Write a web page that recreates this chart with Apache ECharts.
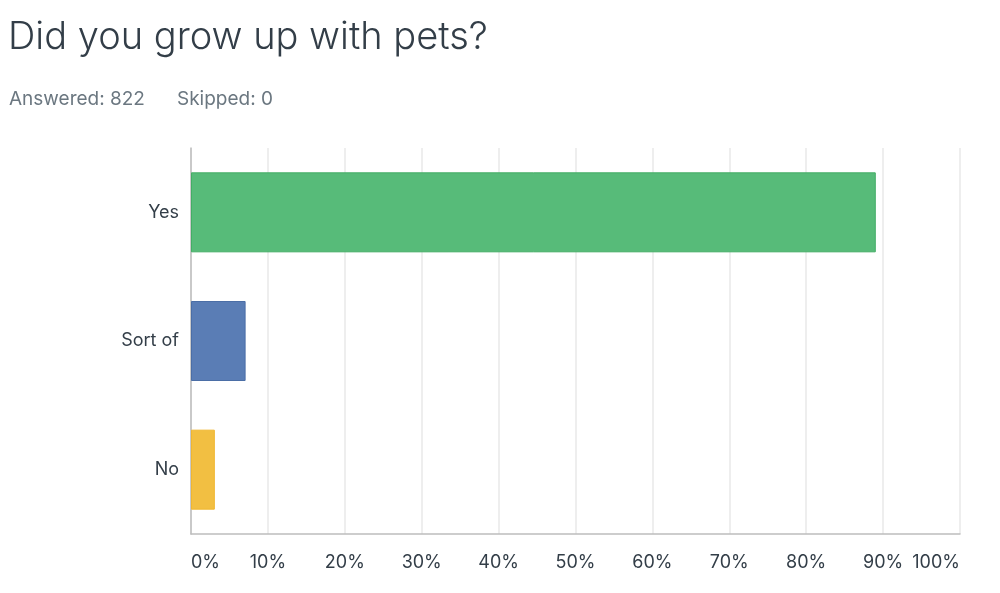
<!DOCTYPE html>
<html>
<head>
<meta charset="utf-8">
<script src="https://cdn.jsdelivr.net/npm/echarts@6/dist/echarts.min.js"></script>
<style>html,body{margin:0;padding:0;background:#fff}#c{width:1000px;height:593px}</style>
</head>
<body>
<div id="c"></div>
<script>
const categories = ['Yes', 'Sort of', 'No'];
const values = [89.05, 7.1, 3.1];
const barColors = ['#57bb79', '#5a7db5', '#f2bf42'];
const borderColors = ['#43ad65', '#4b6ea6', '#f0b630'];
const tickValues = [0, 10, 20, 30, 40, 50, 60, 70, 80, 90, 100];

const chart = echarts.init(document.getElementById('c'), null, {renderer: 'canvas'});
chart.setOption({
  animation: false,
  backgroundColor: '#fff',
  title: [
    {text: 'Did you grow up with pets?', left: 8, top: 19, padding: 0,
     textStyle: {fontFamily: 'Inter', fontWeight: 300, fontSize: 38, color: '#333e48'}},
    {text: 'Answered: 822', left: 9, top: 90, padding: 0,
     textStyle: {fontFamily: 'Inter', fontWeight: 400, fontSize: 19, color: '#6b7780'}},
    {text: 'Skipped: 0', left: 177, top: 90, padding: 0,
     textStyle: {fontFamily: 'Inter', fontWeight: 400, fontSize: 19, color: '#6b7780'}}
  ],
  grid: {left: 191, right: 40, top: 148, bottom: 59, containLabel: false},
  xAxis: {
    type: 'value', min: 0, max: 100, interval: 10,
    axisLine: {show: true, lineStyle: {color: '#bdbdbd', width: 1.5}},
    axisTick: {show: false},
    splitLine: {show: true, lineStyle: {color: '#e8e8e8', width: 1.5}},
    axisLabel: {
      margin: 20, fontFamily: 'Inter', fontSize: 18, color: '#333e48',
      alignMinLabel: 'left', alignMaxLabel: 'right',
      formatter: v => tickValues.includes(v) ? v + '%' : ''
    }
  },
  yAxis: {
    type: 'category', data: categories, inverse: true,
    axisLine: {show: true, lineStyle: {color: '#bdbdbd', width: 1.5}},
    axisTick: {show: false},
    axisLabel: {margin: 12, fontFamily: 'Inter', fontSize: 18, color: '#333e48'}
  },
  series: [{
    type: 'bar',
    barWidth: 80,
    data: values.map((v, i) => ({value: v, itemStyle: {color: barColors[i], borderColor: borderColors[i], borderWidth: 1}}))
  }]
});
</script>
</body>
</html>
